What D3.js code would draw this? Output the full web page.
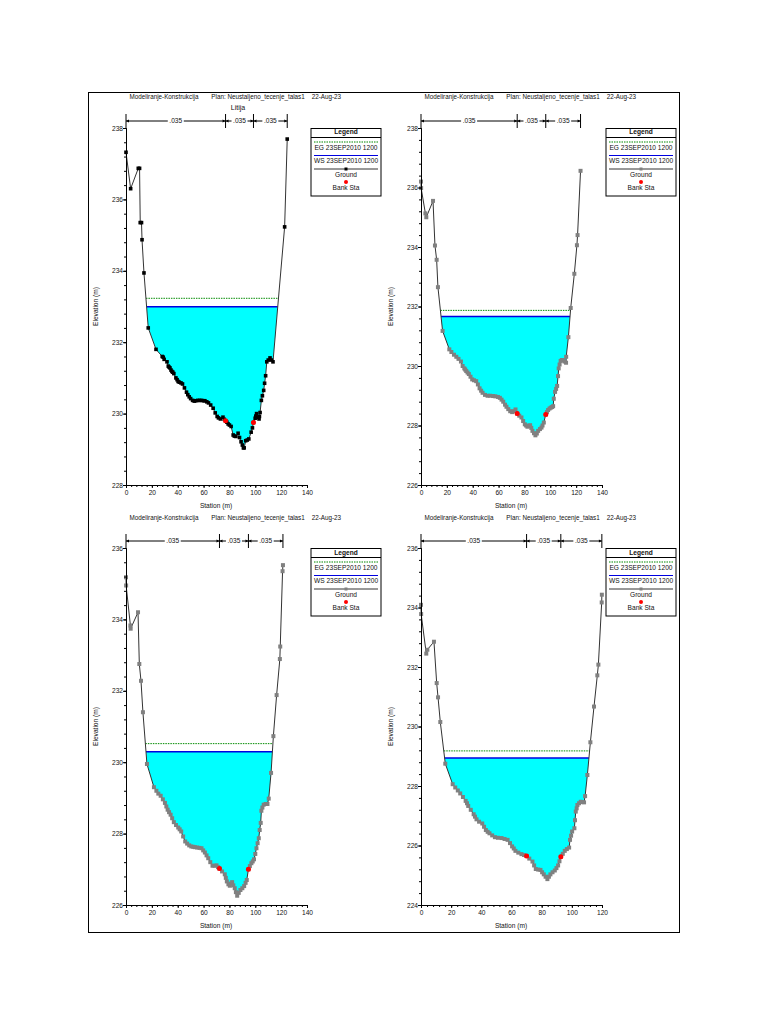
<!DOCTYPE html>
<html>
<head>
<meta charset="utf-8">
<title>Litija</title>
<script src="https://cdn.jsdelivr.net/npm/d3@7"></script>
<style>
  html, body { margin: 0; padding: 0; background: #fff; }
  svg { display: block; }
  text { font-family: "Liberation Sans", Arial, sans-serif; fill: #111; }
</style>
</head>
<body>
<svg id="chart" width="768" height="1024"></svg>
<script>
// values
const headerLeft = 'Modeliranje-Konstrukcija';
const headerPlan = 'Plan: Neustaljeno_tecenje_talas1';
const headerDate = '22-Aug-23';
const legendLabels = ['EG 23SEP2010 1200', 'WS 23SEP2010 1200', 'Ground', 'Bank Sta'];
const manningN = ['.035', '.035', '.035'];

// [station, elevation]
const ground1 = [[0,237.32],[3.6,236.3],[9.5,236.87],[10.5,236.87],[11,235.35],[12,235.35],[12.4,234.87],[13.9,233.94],[17.2,232.4],[23.2,231.8],[28,231.6],[28.8,231.58],[29.5,231.52],[31.7,231.45],[32.7,231.33],[33.4,231.3],[34,231.28],[34.8,231.22],[35.5,231.18],[36.2,231.16],[37,231.12],[38.6,231],[39.5,230.95],[40.3,230.9],[41.2,230.88],[42.5,230.86],[43.7,230.83],[45.2,230.72],[46.8,230.6],[47.8,230.53],[48.9,230.47],[50,230.42],[51.5,230.37],[52.8,230.35],[54,230.36],[55.5,230.37],[57,230.37],[58.5,230.37],[60,230.36],[61,230.36],[62.5,230.33],[63.8,230.3],[65.5,230.24],[67.4,230.15],[69,230.02],[70.5,229.92],[71.5,229.88],[73,229.85],[75,229.9],[76,229.84],[77,229.8],[78,229.76],[79,229.71],[80,229.68],[81.3,229.64],[82.9,229.4],[83.8,229.37],[85,229.36],[86.7,229.45],[87.8,229.33],[89,229.21],[90,229.12],[90.8,229.04],[91.4,229.04],[92.6,229.24],[93.8,229.26],[95,229.29],[96.8,229.48],[97.8,229.6],[98.6,229.75],[99.9,229.87],[100.4,229.93],[101,230],[102,229.9],[102.9,229.85],[103.2,229.92],[103.7,230.03],[104.7,230.37],[105.5,230.5],[106.5,230.65],[107.2,230.85],[108,231.06],[108.9,231.45],[110,231.5],[111.4,231.56],[112.5,231.5],[113.7,231.45],[122.7,235.23],[124.7,237.69]];
const banks1 = [77, 98.6];

const ground2 = [[0,236.2],[0.1,235.98],[3.4,235.13],[4.1,235],[9.3,235.55],[10.8,234.05],[12.1,233.57],[13.1,232.65],[16.7,231.18],[21.9,230.56],[23.5,230.47],[25.5,230.38],[27.3,230.31],[29,230.24],[30.9,230.15],[32.2,230],[33.5,229.92],[34.2,229.88],[35,229.83],[36,229.78],[37,229.73],[38.3,229.64],[39.6,229.55],[41,229.52],[42.7,229.49],[44,229.38],[45.3,229.25],[46.5,229.17],[47.6,229.1],[49.5,229.03],[51.5,229],[53.5,229],[55.8,228.99],[57.5,228.98],[59.5,228.96],[61,228.93],[62.3,228.87],[63.6,228.8],[65,228.7],[66.1,228.63],[67.5,228.55],[69,228.48],[70.5,228.45],[71.8,228.48],[73.1,228.54],[74.4,228.4],[76,228.33],[77.7,228.27],[79,228.15],[80.3,228.04],[81.3,228],[82.3,227.96],[83.4,227.98],[84.4,228.01],[85.3,227.92],[86.2,227.82],[87.4,227.74],[88.5,227.67],[89.6,227.73],[90.6,227.82],[92,227.88],[93.2,227.93],[94,228],[95,228.1],[96.5,228.37],[97.4,228.45],[98.3,228.52],[99.4,228.57],[100.4,228.6],[101.4,228.62],[102.2,228.65],[102.7,228.9],[103.7,229.13],[104.5,229.23],[105.3,229.33],[106,229.66],[106.5,229.92],[107.2,230.05],[108,230.17],[108.9,230.2],[109.9,230.2],[111,230.15],[112.2,230.11],[112.3,230.31],[114,230.97],[115.8,231.95],[118.6,233.1],[120.6,234.06],[121.1,234.4],[123.4,236.56]];
const banks2 = [74.4, 96.5];

const ground3 = [[0,235.18],[0.1,234.95],[3.4,233.83],[3.6,233.74],[9.3,234.2],[10.3,232.75],[11.6,232.28],[13.1,231.4],[16.2,229.95],[21.6,229.3],[23.5,229.2],[25,229.12],[26.8,229.06],[28.5,228.96],[30.1,228.86],[31.2,228.76],[32.2,228.67],[33.3,228.6],[34.5,228.53],[35.7,228.43],[37,228.32],[38.7,228.24],[40.4,228.17],[41.5,228.12],[42.7,228.06],[44.2,227.92],[45.8,227.78],[47.3,227.72],[48.9,227.67],[50.5,227.64],[52,227.63],[53.3,227.62],[55,227.61],[56.8,227.6],[58.4,227.59],[59.7,227.53],[61,227.47],[62.3,227.39],[63.6,227.31],[65.2,227.2],[66.9,227.1],[68.5,227.1],[70,227.11],[71.2,227.06],[72.3,227.02],[74.3,226.94],[76.4,226.86],[77.2,226.76],[78,226.66],[79.2,226.58],[80.3,226.54],[81.2,226.6],[82.1,226.64],[83,226.55],[84.1,226.47],[85,226.36],[86,226.26],[87.2,226.34],[88.5,226.42],[90,226.47],[91.4,226.53],[92.5,226.62],[93.4,226.7],[94.7,227],[95.8,227.09],[97,227.17],[98,227.22],[99,227.28],[100,227.43],[100.9,227.59],[101.8,227.73],[102.7,227.87],[103.4,228.1],[104.2,228.3],[104.7,228.64],[105.5,228.73],[106.5,228.81],[108,228.83],[109.4,228.83],[110.4,228.98],[112.2,229.7],[114,230.73],[116.5,231.88],[119,232.89],[119.3,233.24],[121.1,235.35],[121.4,235.52]];
const banks3 = [72.3, 94.7];

const ground4 = [[0,234.09],[0.1,233.78],[3.5,232.45],[4.2,232.58],[8.6,232.85],[10.4,231.46],[11.3,230.98],[12.8,230.15],[16.1,228.75],[21,228.06],[22.7,227.95],[24.4,227.85],[26,227.75],[27.8,227.63],[29.6,227.5],[30.5,227.42],[31.3,227.33],[33,227.2],[34.9,227.05],[35.8,226.97],[36.8,226.88],[38.5,226.8],[40.6,226.74],[41.8,226.63],[43,226.52],[44.2,226.46],[45.4,226.41],[47.2,226.34],[49,226.28],[51,226.26],[53.4,226.25],[55.4,226.22],[57.4,226.19],[59,226.08],[60.4,225.97],[61.5,225.9],[62.6,225.82],[64.5,225.76],[66.6,225.71],[68.3,225.68],[70,225.65],[71.8,225.56],[73.9,225.46],[75,225.33],[76.1,225.21],[77.7,225.19],[79.2,225.18],[80.3,225.1],[81.4,225.03],[82.6,224.95],[83.8,224.87],[84.8,224.95],[85.8,225.03],[87.2,225.1],[88.7,225.16],[89.8,225.24],[90.9,225.33],[91.8,225.47],[92.7,225.62],[94,225.72],[95.3,225.82],[96.7,225.88],[98.2,225.93],[98.8,226.19],[99.5,226.33],[100.2,226.47],[101.7,226.58],[102.1,226.85],[102.6,227.14],[103.2,227.25],[103.7,227.36],[104.8,227.42],[105.9,227.47],[107,227.46],[108.1,227.45],[108.8,227.66],[110.3,228.37],[112.3,229.47],[114.7,230.67],[116.9,231.72],[117.6,232.08],[119.8,234.17],[119.9,234.43]];
const banks4 = [70, 92.7];

const wsLevels = [232.99, 231.66, 230.29, 228.94];
const egLevels = [233.23, 231.87, 230.52, 229.18];
const xMaxes = [140, 140, 140, 120];
const yMins = [228, 226, 226, 224];
const yMaxes = [238, 238, 236, 236];

const grounds = [ground1, ground2, ground3, ground4];
const banks = [banks1, banks2, banks3, banks4];
const panelTitles = ['Litija', '', '', ''];

const svg = d3.select('#chart');

svg.append('rect')
  .attr('x', 88.5).attr('y', 92.5)
  .attr('width', 591).attr('height', 840)
  .attr('fill', 'none').attr('stroke', '#000');

// where the ground crosses a level, walking in from each side
function crossing(pts, level, fromRight) {
  const list = fromRight ? pts.slice().reverse() : pts;
  for (let i = 1; i < list.length; i++) {
    if (list[i - 1].e >= level && list[i].e < level) {
      const t = (list[i - 1].e - level) / (list[i - 1].e - list[i].e);
      return list[i - 1].s + t * (list[i].s - list[i - 1].s);
    }
  }
  return list[0].s;
}

function drawPanel(i) {
  const left = i % 2 ? 421 : 126;
  const top = i < 2 ? 128 : 548;
  const width = 181;
  const height = 357;
  const markerColor = i === 0 ? '#000' : '#808080';
  const markerSize = i === 0 ? 3.6 : 4;

  const x = d3.scaleLinear().domain([0, xMaxes[i]]).range([left, left + width]);
  const y = d3.scaleLinear().domain([yMins[i], yMaxes[i]]).range([top + height, top]);

  const pts = grounds[i].map(d => ({ s: d[0], e: d[1] }));
  const g = svg.append('g');

  // water body, clipped at the water surface
  const ws = wsLevels[i];
  const eg = egLevels[i];
  const wsLeft = crossing(pts, ws, false);
  const wsRight = crossing(pts, ws, true);
  const clipId = 'wet' + i;
  svg.append('clipPath').attr('id', clipId).append('rect')
    .attr('x', x(wsLeft)).attr('y', y(ws))
    .attr('width', x(wsRight) - x(wsLeft)).attr('height', top + height - y(ws));

  g.append('path')
    .datum(pts)
    .attr('clip-path', `url(#${clipId})`)
    .attr('fill', '#00ffff')
    .attr('d', d3.area().x(d => x(d.s)).y0(y(ws)).y1(d => y(d.e)));

  g.append('line')
    .attr('x1', x(crossing(pts, eg, false))).attr('x2', x(crossing(pts, eg, true)))
    .attr('y1', y(eg)).attr('y2', y(eg))
    .attr('stroke', '#008a00').attr('stroke-width', 1)
    .attr('stroke-dasharray', '1.5,1');

  g.append('line')
    .attr('x1', x(wsLeft)).attr('x2', x(wsRight))
    .attr('y1', y(ws)).attr('y2', y(ws))
    .attr('stroke', '#0000e0').attr('stroke-width', 1.5);

  // ground
  g.append('path')
    .datum(pts)
    .attr('fill', 'none')
    .attr('stroke', '#333')
    .attr('stroke-width', 1)
    .attr('d', d3.line().x(d => x(d.s)).y(d => y(d.e)));

  g.selectAll('.pt')
    .data(pts)
    .join('rect')
    .attr('x', d => x(d.s) - markerSize / 2)
    .attr('y', d => y(d.e) - markerSize / 2)
    .attr('width', markerSize).attr('height', markerSize)
    .attr('fill', markerColor);

  g.selectAll('.bank')
    .data(pts.filter(d => banks[i].includes(d.s)))
    .join('circle')
    .attr('cx', d => x(d.s))
    .attr('cy', d => y(d.e))
    .attr('r', 2.5)
    .attr('fill', '#f00');

  // axes
  const xAxis = d3.axisBottom(x).tickValues(d3.range(0, xMaxes[i] + 1, 20)).tickSize(3);
  const xMinor = d3.axisBottom(x).tickValues(d3.range(0, xMaxes[i] + 1, 4)).tickSize(2).tickFormat('');
  const yAxis = d3.axisLeft(y).tickValues(d3.range(yMins[i], yMaxes[i] + 1, 2)).tickSize(3);
  const yMinor = d3.axisLeft(y).tickValues(d3.range(yMins[i], yMaxes[i] + 0.1, 0.4)).tickSize(2).tickFormat('');

  const axisX = g.append('g').attr('transform', `translate(0,${top + height})`);
  axisX.append('g').call(xMinor);
  axisX.append('g').call(xAxis);
  const axisY = g.append('g').attr('transform', `translate(${left},0)`);
  axisY.append('g').call(yMinor);
  axisY.append('g').call(yAxis);
  g.selectAll('.tick text').attr('font-size', 6.6).attr('font-family', '"Liberation Sans", Arial, sans-serif').attr('fill', '#111');
  axisX.selectAll('.tick text').attr('y', 5);
  axisY.selectAll('.tick text').attr('x', -3);

  g.append('text')
    .attr('x', left + width / 2 - 0.5).attr('y', top + height + 22.5)
    .attr('text-anchor', 'middle').attr('font-size', 6.6)
    .text('Station (m)');

  g.append('text')
    .attr('transform', `translate(${left - 28},${top + height / 2}) rotate(-90)`)
    .attr('text-anchor', 'middle').attr('font-size', 6.6)
    .text('Elevation (m)');

  // header lines
  const headerY = top - (i < 2 ? 29 : 28);
  [[headerLeft, 3.5], [headerPlan, 85.3], [headerDate, 185.7]].forEach(([label, dx]) => {
    g.append('text')
      .attr('x', left + dx).attr('y', headerY)
      .attr('font-size', 6.3).attr('fill', '#333')
      .text(label);
  });
  if (panelTitles[i]) {
    g.append('text')
      .attr('x', left + 112).attr('y', top - 18)
      .attr('text-anchor', 'middle').attr('font-size', 7)
      .text(panelTitles[i]);
  }

  // Manning n bar above the plot
  const breaks = [pts[0].s, banks[i][0], banks[i][1], pts[pts.length - 1].s];
  const barY = top - 7;
  breaks.forEach(b => {
    g.append('line')
      .attr('x1', x(b)).attr('x2', x(b))
      .attr('y1', top - 14).attr('y2', top)
      .attr('stroke', '#000');
  });
  manningN.forEach((n, k) => {
    const a = x(breaks[k]);
    const b = x(breaks[k + 1]);
    g.append('line')
      .attr('x1', a).attr('x2', b)
      .attr('y1', barY).attr('y2', barY)
      .attr('stroke', '#000');
    [[a, 1], [b, -1]].forEach(([px, dir]) => {
      g.append('path')
        .attr('d', `M${px},${barY}l${dir * 3},-1.6v3.2z`)
        .attr('fill', '#000');
    });
    g.append('rect')
      .attr('x', (a + b) / 2 - 8).attr('y', barY - 4)
      .attr('width', 16).attr('height', 8)
      .attr('fill', '#fff');
    g.append('text')
      .attr('x', (a + b) / 2).attr('y', barY + 2.3)
      .attr('text-anchor', 'middle').attr('font-size', 6.6)
      .text(n);
  });

  // legend
  const lx = left + 185;
  const ly = top;
  const lw = 70;
  const leg = g.append('g');
  leg.append('rect')
    .attr('x', lx).attr('y', ly + 0.5)
    .attr('width', lw).attr('height', 67.5)
    .attr('fill', '#fff').attr('stroke', '#000').attr('stroke-width', 1);
  leg.append('line')
    .attr('x1', lx).attr('x2', lx + lw)
    .attr('y1', ly + 9.5).attr('y2', ly + 9.5)
    .attr('stroke', '#000');
  leg.append('text')
    .attr('x', lx + lw / 2).attr('y', ly + (i < 2 ? 5.5 : 6.5))
    .attr('text-anchor', 'middle').attr('font-size', 6.6).attr('font-weight', 'bold')
    .text('Legend');
  const rowLine = [14, 27.5, 41];
  const rowText = [21.5, 35, 48.5, 62];
  legendLabels.forEach((label, k) => {
    leg.append('text')
      .attr('x', lx + lw / 2).attr('y', ly + rowText[k])
      .attr('text-anchor', 'middle').attr('font-size', 6.6)
      .text(label);
  });
  leg.append('line')
    .attr('x1', lx + 3).attr('x2', lx + lw - 3).attr('y1', ly + rowLine[0]).attr('y2', ly + rowLine[0])
    .attr('stroke', '#008a00').attr('stroke-dasharray', '1.5,1');
  leg.append('line')
    .attr('x1', lx + 3).attr('x2', lx + lw - 3).attr('y1', ly + rowLine[1]).attr('y2', ly + rowLine[1])
    .attr('stroke', '#0000e0');
  leg.append('line')
    .attr('x1', lx + 3).attr('x2', lx + lw - 3).attr('y1', ly + rowLine[2]).attr('y2', ly + rowLine[2])
    .attr('stroke', '#333');
  leg.append('rect')
    .attr('x', lx + lw / 2 - 1.5).attr('y', ly + rowLine[2] - 1.5)
    .attr('width', 3).attr('height', 3)
    .attr('fill', markerColor);
  leg.append('circle')
    .attr('cx', lx + lw / 2).attr('cy', ly + 54)
    .attr('r', 2).attr('fill', '#f00');
}

d3.range(4).forEach(drawPanel);
</script>
</body>
</html>
